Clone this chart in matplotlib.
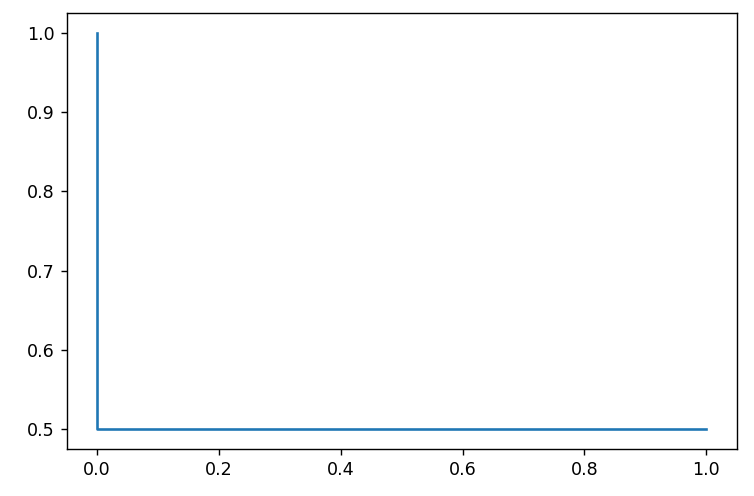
import matplotlib
matplotlib.use("Agg")
import matplotlib.pyplot as plt

fpr = [0.0, 0.0, 1.0]
tpr = [1.0, 0.5, 0.5]

s = 100 / 72 * 0.0 + 1.745 * 72 / 100  # scale factor from 72dpi default to 100dpi
plt.rcParams.update({
    "font.size": 10 * s,
    "axes.linewidth": 0.8 * s,
    "xtick.major.width": 0.8 * s,
    "ytick.major.width": 0.8 * s,
    "xtick.major.size": 3.5 * s,
    "ytick.major.size": 3.5 * s,
    "xtick.major.pad": 3.5 * s,
    "ytick.major.pad": 3.5 * s,
    "lines.linewidth": 1.5 * s,
})

fig = plt.figure(figsize=(7.54, 4.96), dpi=100)
ax = fig.add_axes([0.0885, 0.0948, 0.8886, 0.8796])
ax.plot(fpr, tpr, color="#1f77b4")
ax.set_xticks([0.0, 0.2, 0.4, 0.6, 0.8, 1.0])
ax.set_yticks([0.5, 0.6, 0.7, 0.8, 0.9, 1.0])
fig.savefig("out.png", dpi=100)
